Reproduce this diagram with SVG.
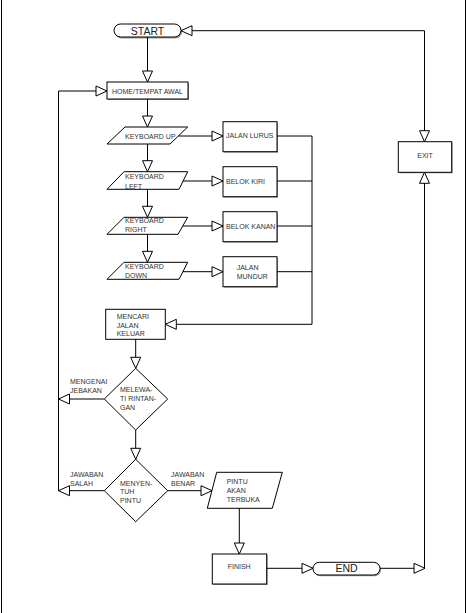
<svg xmlns="http://www.w3.org/2000/svg" width="467" height="613" viewBox="0 0 467 613">
<defs>
<marker id="ah" markerUnits="userSpaceOnUse" markerWidth="13" markerHeight="12" refX="11" refY="5" orient="auto-start-reverse" viewBox="-1 -1 13 12">
<path d="M0,0 L11,5 L0,10 Z" fill="#fff" stroke="#000" stroke-width="1"/>
</marker>
<style>
.s{fill:#fff;stroke:#000;stroke-width:1}
.sh{fill:#9a9a9a;stroke:none}
.c{fill:none;stroke:#000;stroke-width:1}
.t{font-family:"Liberation Sans",Arial,sans-serif;font-size:7px;fill:#333}
.tl{font-family:"Liberation Sans",Arial,sans-serif;font-size:10.5px;fill:#222}
</style>
</defs>
<rect width="467" height="613" fill="#fff"/>
<line x1="1.5" y1="0" x2="1.5" y2="613" stroke="#000"/>
<line x1="465.5" y1="0" x2="465.5" y2="613" stroke="#000"/>

<g id="start">
<rect class="sh" x="115" y="25" width="67" height="13.5" rx="6.5"/>
<rect class="s" x="114" y="24" width="67" height="13" rx="6.5"/>
<text class="tl" x="147.5" y="34.5" text-anchor="middle">START</text>
</g>
<g id="home">
<rect class="sh" x="108" y="83" width="81" height="17"/>
<rect class="s" x="107" y="82" width="81" height="17"/>
<text class="t" x="147.5" y="93.5" text-anchor="middle">HOME/TEMPAT AWAL</text>
</g>
<g id="kbup">
<polygon class="s" points="125,127 187.7,127 170,144 107,144"/>
<text class="t" x="125" y="138.5">KEYBOARD UP</text>
</g>
<g id="kbleft">
<polygon class="s" points="124,171.7 187.7,171.7 179,189.3 107,189.3"/>
<text class="t" x="125" y="179">KEYBOARD</text>
<text class="t" x="125" y="188.5">LEFT</text>
</g>
<g id="kbright">
<polygon class="s" points="124,217.3 187.7,217.3 178,234.3 107,234.3"/>
<text class="t" x="125" y="223">KEYBOARD</text>
<text class="t" x="125" y="232">RIGHT</text>
</g>
<g id="kbdown">
<polygon class="s" points="124,262.3 187.7,262.3 179,279.3 107,279.3"/>
<text class="t" x="125" y="268.5">KEYBOARD</text>
<text class="t" x="125" y="278">DOWN</text>
</g>
<g id="lurus">
<rect class="sh" x="224" y="122.7" width="54" height="30"/>
<rect class="s" x="223" y="121.7" width="54" height="30"/>
<text class="t" x="226" y="137.5">JALAN LURUS</text>
</g>
<g id="kiri">
<rect class="sh" x="224" y="167.7" width="54" height="30"/>
<rect class="s" x="223" y="166.7" width="54" height="30"/>
<text class="t" x="226" y="183.5">BELOK KIRI</text>
</g>
<g id="kanan">
<rect class="sh" x="224" y="212.7" width="54" height="30"/>
<rect class="s" x="223" y="211.7" width="54" height="30"/>
<text class="t" x="226" y="228.5">BELOK KANAN</text>
</g>
<g id="mundur">
<rect class="sh" x="224" y="257.7" width="54" height="30"/>
<rect class="s" x="223" y="256.7" width="54" height="30"/>
<text class="t" x="236.7" y="270">JALAN</text>
<text class="t" x="236.7" y="279">MUNDUR</text>
</g>
<g id="mencari">
<rect class="s" x="105.7" y="309.3" width="59.6" height="30"/>
<text class="t" x="116.7" y="319">MENCARI</text>
<text class="t" x="116.7" y="327.5">JALAN</text>
<text class="t" x="116.7" y="336">KELUAR</text>
</g>
<g id="melewati">
<polygon class="s" points="135.7,368.3 167.7,399 135.7,430 104.3,399"/>
<text class="t" x="120" y="391.5">MELEWA-</text>
<text class="t" x="120" y="401">TI RINTAN-</text>
<text class="t" x="120" y="409.5">GAN</text>
</g>
<g id="menyentuh">
<polygon class="s" points="135.7,459.3 167.7,490.7 135.7,521.7 104.3,490.7"/>
<text class="t" x="120" y="485.5">MENYEN-</text>
<text class="t" x="120" y="494">TUH</text>
<text class="t" x="120" y="502.5">PINTU</text>
</g>
<g id="pintu">
<polygon class="s" points="216.7,472.3 282.3,472.3 272.3,508.3 207.3,508.3"/>
<text class="t" x="226.7" y="484">PINTU</text>
<text class="t" x="226.7" y="492.5">AKAN</text>
<text class="t" x="226.7" y="501.5">TERBUKA</text>
</g>
<g id="finish">
<rect class="sh" x="213.3" y="555" width="54.4" height="30"/>
<rect class="s" x="212.3" y="554" width="54.4" height="30"/>
<text class="t" x="227.7" y="569">FINISH</text>
</g>
<g id="end">
<rect class="sh" x="314" y="563.3" width="67" height="13" rx="6.5"/>
<rect class="s" x="313" y="562.3" width="67" height="12.7" rx="6.3"/>
<text class="tl" x="346.5" y="572.3" text-anchor="middle">END</text>
</g>
<g id="exit">
<rect class="sh" x="399.3" y="142.7" width="53.4" height="30.6"/>
<rect class="s" x="398.3" y="141.7" width="53.4" height="30.6"/>
<text class="t" x="425" y="158" text-anchor="middle">EXIT</text>
</g>

<g id="connectors">
<path class="c" d="M147.5,37 V82" marker-end="url(#ah)"/>
<path class="c" d="M147.5,99 V127" marker-end="url(#ah)"/>
<path class="c" d="M147.5,144 V171.7" marker-end="url(#ah)"/>
<path class="c" d="M147.5,189.3 V217.3" marker-end="url(#ah)"/>
<path class="c" d="M147.5,234.3 V262.3" marker-end="url(#ah)"/>
<path class="c" d="M178.5,136 H223" marker-end="url(#ah)"/>
<path class="c" d="M183,181 H223" marker-end="url(#ah)"/>
<path class="c" d="M183,226 H223" marker-end="url(#ah)"/>
<path class="c" d="M183,271.7 H223" marker-end="url(#ah)"/>
<path class="c" d="M277,136 H312 V324.3 H165.3" marker-end="url(#ah)"/>
<path class="c" d="M277,181 H312 M277,226 H312 M277,271.7 H312"/>
<path class="c" d="M135.7,339.3 V368.3" marker-end="url(#ah)"/>
<path class="c" d="M104.3,399 H58.5" marker-end="url(#ah)"/>
<path class="c" d="M135.7,430 V459.3" marker-end="url(#ah)"/>
<path class="c" d="M104.3,490.7 H58.5" marker-end="url(#ah)"/>
<path class="c" d="M58.5,490.7 V91 H107" marker-end="url(#ah)"/>
<path class="c" d="M167.7,490.7 H212" marker-end="url(#ah)"/>
<path class="c" d="M239.3,508.3 V554" marker-end="url(#ah)"/>
<path class="c" d="M266.7,568.3 H313" marker-end="url(#ah)"/>
<path class="c" d="M380,568.3 H425" marker-end="url(#ah)"/>
<path class="c" d="M424.5,568.3 V172.3" marker-end="url(#ah)"/>
<path class="c" d="M181,30.7 H424.5 V141.7" marker-start="url(#ah)" marker-end="url(#ah)"/>
</g>
<text class="t" x="70" y="383.5">MENGENAI</text>
<text class="t" x="70" y="392.5">JEBAKAN</text>
<text class="t" x="70" y="476.5">JAWABAN</text>
<text class="t" x="70" y="485.5">SALAH</text>
<text class="t" x="171" y="476.5">JAWABAN</text>
<text class="t" x="171" y="485.5">BENAR</text>
</svg>
